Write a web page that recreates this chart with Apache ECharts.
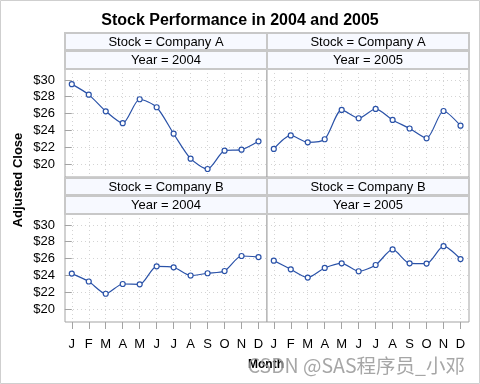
<!DOCTYPE html>
<html>
<head>
<meta charset="utf-8">
<script src="https://cdn.jsdelivr.net/npm/echarts@6/dist/echarts.min.js"></script>
<style>html,body{margin:0;padding:0;background:#fff}#c{width:480px;height:384px}</style>
</head>
<body>
<div id="c"></div>
<script>
// ---- data ----
var months = ['J','F','M','A','M','J','J','A','S','O','N','D'];
var companyA2004 = [29.5, 28.25, 26.27, 24.85, 27.7, 26.75, 23.6, 20.63, 19.4, 21.58, 21.7, 22.7];
var companyA2005 = [21.79, 23.4, 22.58, 22.94, 26.43, 25.44, 26.55, 25.24, 24.22, 23.06, 26.3, 24.56];
var companyB2004 = [24.21, 23.27, 21.81, 22.97, 22.93, 25.08, 24.96, 23.98, 24.25, 24.52, 26.3, 26.18];
var companyB2005 = [25.75, 24.72, 23.74, 24.88, 25.43, 24.49, 25.23, 27.08, 25.43, 25.4, 27.47, 25.94];
var yTickLabels = ['$20','$22','$24','$26','$28','$30'];

var panels = [
  {stock:'Company A', year:'2004', col:0, row:0, values:companyA2004},
  {stock:'Company A', year:'2005', col:1, row:0, values:companyA2005},
  {stock:'Company B', year:'2004', col:0, row:1, values:companyB2004},
  {stock:'Company B', year:'2005', col:1, row:1, values:companyB2005}
];

// ---- layout ----
var colLeft = [65, 267], panelW = 202;
var rowTop = [69, 214], panelH = 108;
var font = '"Liberation Sans", Arial, sans-serif';
var lineColor = '#2A52A8';

var grids = [], xAxes = [], yAxes = [], series = [], graphics = [];
var monthIdx = months.map(function (m, k) { return k; });
var yVals = yTickLabels.map(function (t) { return +t.slice(1); });

panels.forEach(function (p, i) {
  var isBottom = p.row === 1, isLeft = p.col === 0;
  grids.push({
    left: colLeft[p.col], top: rowTop[p.row], width: panelW, height: panelH,
    show: true, borderColor: '#A3A3A3', borderWidth: 1, backgroundColor: '#fff'
  });
  xAxes.push({
    type: 'value', gridIndex: i, min: -0.4, max: 11.5, splitNumber: 12,
    axisLine: {show: false},
    axisTick: {show: isBottom, length: 7, lineStyle: {color: '#A3A3A3', width: 1},
               customValues: monthIdx},
    axisLabel: {show: isBottom, color: '#000', fontSize: 13, fontFamily: font, margin: 16,
                customValues: monthIdx,
                formatter: function (v) { return months[Math.round(v)] || ''; }},
    splitLine: {show: true, lineStyle: {color: '#D4D4D4', type: [1, 3], width: 1}}
  });
  yAxes.push({
    type: 'value', gridIndex: i, min: 18.45, max: 31.3, splitNumber: 6,
    axisLine: {show: false},
    axisTick: {show: isLeft, length: 7, lineStyle: {color: '#A3A3A3', width: 1},
               customValues: yVals},
    axisLabel: {show: isLeft, color: '#000', fontSize: 13, fontFamily: font, margin: 10,
                customValues: yVals,
                formatter: function (v) { return '$' + v; }},
    splitLine: {show: true, lineStyle: {color: '#D4D4D4', type: [1, 3], width: 1}}
  });
  series.push({
    type: 'line', xAxisIndex: i, yAxisIndex: i,
    data: p.values.map(function (v, k) { return [k, v]; }),
    smooth: 0.25,
    symbol: 'circle', symbolSize: 5, showSymbol: true,
    lineStyle: {color: lineColor, width: 1.2},
    itemStyle: {color: '#fff', borderColor: lineColor, borderWidth: 1.2},
    emphasis: {disabled: true},
    z: 5
  });
  // header cells
  var hx = colLeft[p.col], hy = rowTop[p.row] - 36;
  [['Stock = ' + p.stock, hy, 17], ['Year = ' + p.year, hy + 18, 18]].forEach(function (h) {
    graphics.push({
      type: 'rect', shape: {x: hx, y: h[1], width: panelW, height: h[2]},
      style: {fill: '#F7F9FF', stroke: '#C8C8C8', lineWidth: 2}, z: 1
    });
    graphics.push({
      type: 'text', x: hx + panelW / 2, y: h[1] + h[2] / 2 + 0.5,
      style: {text: h[0], fill: '#000', font: '13px ' + font, align: 'center', verticalAlign: 'middle'}, z: 2
    });
  });
});

graphics.push({
  type: 'rect', shape: {x: 0.5, y: 0.5, width: 479, height: 383},
  style: {fill: 'none', stroke: '#CFCFCF', lineWidth: 1}, z: 0
});
graphics.push({
  type: 'text', x: 18, y: 180, rotation: Math.PI / 2,
  style: {text: 'Adjusted Close', fill: '#000', font: 'bold 13px ' + font, align: 'center', verticalAlign: 'middle'}
});
graphics.push({
  type: 'text', x: 266, y: 365,
  style: {text: 'Month', fill: '#000', font: 'bold 12px ' + font, align: 'center', verticalAlign: 'middle'}
});
graphics.push({
  type: 'text', x: 465, y: 366,
  style: {text: 'CSDN @SAS程序员_小邓', fill: 'rgba(150,150,150,0.85)', font: '19.5px "Noto Sans CJK SC", ' + font, align: 'right', verticalAlign: 'middle'}, z: 10
});

var chart = echarts.init(document.getElementById('c'), null, {renderer: 'canvas'});
chart.setOption({
  animation: false,
  backgroundColor: '#fff',
  title: {
    text: 'Stock Performance in 2004 and 2005', left: 'center', top: 8,
    textStyle: {fontSize: 16, fontWeight: 'bold', color: '#000', fontFamily: font}
  },
  grid: grids, xAxis: xAxes, yAxis: yAxes, series: series,
  graphic: graphics
});
</script>
</body>
</html>
